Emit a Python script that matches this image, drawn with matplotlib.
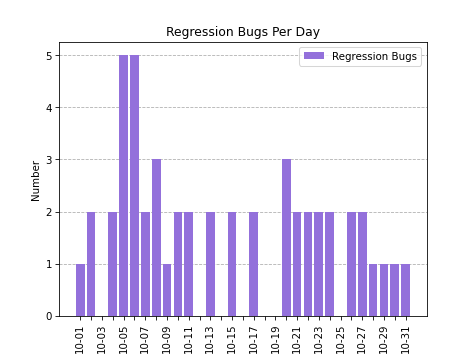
import matplotlib
matplotlib.use("Agg")
import matplotlib.pyplot as plt
import numpy as np

dates = [f"10-{d:02d}" for d in range(1, 32)]
bugs = [1, 2, 0, 2, 5, 5, 2, 3, 1, 2, 2, 0, 2, 0, 2, 0, 2, 0, 0, 3,
        2, 2, 2, 2, 0, 2, 2, 1, 1, 1, 1]

fig, ax = plt.subplots(figsize=(6.4, 4.8))
x = np.arange(len(dates))
ax.bar(x, bugs, width=0.8, color="#9370DB", label="Regression Bugs", zorder=2)
ax.set_xticks(x)
ax.set_xticklabels([d if i % 2 == 0 else "" for i, d in enumerate(dates)], rotation=90)
ax.yaxis.grid(True, linestyle="--", color="#b0b0b0", zorder=0)
ax.set_axisbelow(True)
ax.set_ylabel("Number")
ax.set_title("Regression Bugs Per Day")
ax.legend(loc="upper right")
fig.savefig("out.png", dpi=474/6.4)
